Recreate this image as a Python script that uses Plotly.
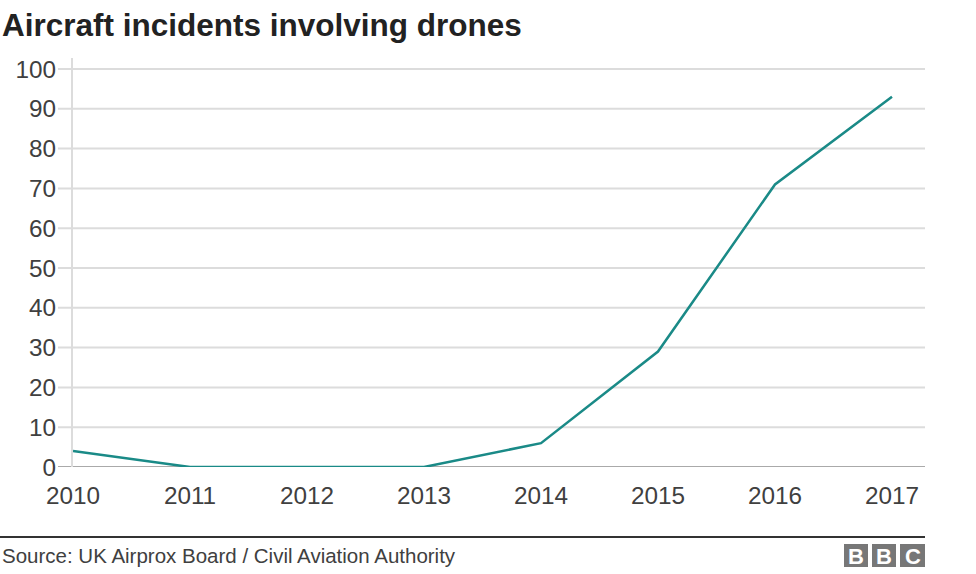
import plotly.graph_objects as go

years = [2010, 2011, 2012, 2013, 2014, 2015, 2016, 2017]
incidents = [4, 0, 0, 0, 6, 29, 71, 93]
y_ticks = [0, 10, 20, 30, 40, 50, 60, 70, 80, 90, 100]
title_text = "Aircraft incidents involving drones"
source_text = "Source: UK Airprox Board / Civil Aviation Authority"

W, H = 976, 574
L, R, T, B = 73, 51, 58, 107
pw = W - L - R
ph = H - T - B

FONT = "Liberation Sans, Arial, Helvetica, sans-serif"
TXT = "#404040"
TICK_SIZE = 24.3

fig = go.Figure()
fig.add_trace(go.Scatter(
    x=years, y=incidents, mode="lines",
    line=dict(color="#1a8a87", width=2.5),
    hoverinfo="x+y", showlegend=False, cliponaxis=False,
))

shapes = []
for v in y_ticks:
    shapes.append(dict(type="line", xref="paper", yref="y", x0=-15 / pw, x1=1,
                       y0=v, y1=v, layer="below",
                       line=dict(color="#aaaaaa" if v == 0 else "#dcdcdc", width=2)))
shapes.append(dict(type="line", xref="paper", yref="paper", x0=-L / pw, x1=1,
                   y0=-(537 - T - ph) / ph, y1=-(537 - T - ph) / ph,
                   line=dict(color="#333333", width=2)))

fig.update_layout(
    width=W, height=H,
    margin=dict(l=L, r=R, t=T, b=B, pad=0),
    paper_bgcolor="white", plot_bgcolor="white",
    font=dict(family=FONT, color=TXT, size=TICK_SIZE),
    xaxis=dict(
        range=[2010, 2017 + 33 / 117], tickvals=years,
        ticktext=[str(y) for y in years],
        showgrid=False, zeroline=False, showline=False,
        ticks="", tickfont=dict(size=TICK_SIZE, color=TXT), ticklabelstandoff=12,
        fixedrange=True,
    ),
    yaxis=dict(
        range=[0, 100 + 11 / 3.98], tickvals=y_ticks,
        showgrid=False, zeroline=False,
        showline=True, linecolor="#dcdcdc", linewidth=2,
        ticks="", ticklabelstandoff=10,
        tickfont=dict(size=TICK_SIZE, color=TXT), fixedrange=True,
    ),
    shapes=shapes,
    annotations=[
        dict(text="<b>" + title_text + "</b>", xref="paper", yref="paper",
             x=-L / pw, y=1 + (T - 25) / ph,
             xanchor="left", yanchor="middle", showarrow=False,
             font=dict(size=31.5, color="#222222", family=FONT)),
        dict(text=source_text, xref="paper", yref="paper",
             x=-L / pw, y=-(555 - T - ph) / ph,
             xanchor="left", yanchor="middle", showarrow=False,
             font=dict(size=20.5, color=TXT, family=FONT)),
    ],
)

# BBC logo blocks
box_x = [(844, 868), (872, 896), (900, 925)]
for (x0, x1), letter in zip(box_x, ["B", "B", "C"]):
    fig.add_shape(type="rect", xref="paper", yref="paper",
                  x0=(x0 - L) / pw, x1=(x1 - L) / pw,
                  y0=-(567 - T - ph) / ph, y1=-(544 - T - ph) / ph,
                  fillcolor="#777777", line=dict(width=0))
    fig.add_annotation(text="<b>" + letter + "</b>", xref="paper", yref="paper",
                       x=((x0 + x1) / 2 - L) / pw, y=-(556 - T - ph) / ph,
                       xanchor="center", yanchor="middle", showarrow=False,
                       font=dict(size=22, color="white", family=FONT))

fig.write_html("out.html")
